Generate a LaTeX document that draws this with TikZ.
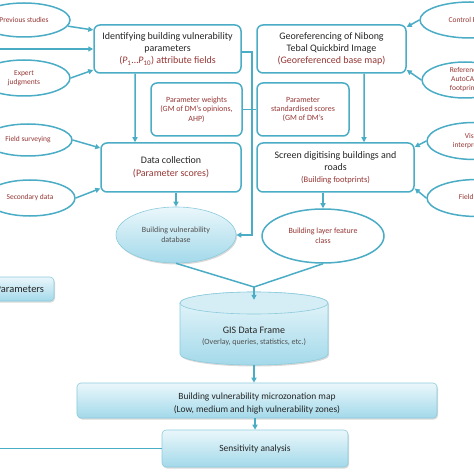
\documentclass[tikz,border=0pt]{standalone}
\usepackage{fontspec}
\setmainfont{Carlito}
\usetikzlibrary{shapes.geometric,arrows.meta,shadows,calc}
\definecolor{tl}{HTML}{4BACC6}
\definecolor{tlb}{HTML}{8CCBDC}
\definecolor{brn}{HTML}{953735}
\definecolor{ltop}{HTML}{EAF7FB}
\definecolor{lbot}{HTML}{A3D9EA}
\definecolor{txt}{HTML}{262626}
\definecolor{gry}{HTML}{505050}
\begin{document}
\begin{tikzpicture}[x=1bp,y=-1bp,
 wbox/.style={draw=tl, line width=1.5bp, rounded corners=6bp, fill=white, align=center, inner sep=1bp, text=txt, font=\fontsize{10}{12}\selectfont},
 sbox/.style={wbox, text=brn, font=\fontsize{8}{9.5}\selectfont},
 oval/.style={ellipse, draw=tl, line width=1.5bp, fill=white, align=center, inner sep=0pt, text=brn, font=\fontsize{7.5}{9}\selectfont},
 bluebox/.style={draw=tlb, line width=0.6bp, rounded corners=4bp, top color=ltop, bottom color=lbot, align=center, text=txt, font=\fontsize{9.5}{13.5}\selectfont, drop shadow={opacity=0.3, shadow xshift=1bp, shadow yshift=-1.5bp}},
 arr/.style={draw=tl, line width=1.5bp, -{Triangle[length=5bp,width=5bp]}},
 con/.style={draw=tl, line width=1.5bp}]
\useasboundingbox (0,0) rectangle (474,474);
\clip (0,0) rectangle (474,474);

% left inputs
\node[oval, minimum width=92bp, minimum height=34bp] (prev) at (24,20) {Previous studies};
\node[oval, minimum width=92bp, minimum height=36bp] (expert) at (24,78) {Expert\\judgments};
\node[oval, minimum width=88bp, minimum height=32bp] (field) at (28,140) {Field surveying};
\node[oval, minimum width=90bp, minimum height=36bp] (second) at (30,198) {Secondary data};

% right inputs
\node[oval, minimum width=100bp, minimum height=36bp] (ctrl) at (470,20) {Control Points};
\node[oval, minimum width=86bp, minimum height=36bp] (refac) at (465,80) {Reference\\AutoCAD\\footprints};
\node[oval, minimum width=94bp, minimum height=37bp] (visual) at (474,141) {Visual\\interpretation};
\node[oval, minimum width=100bp, minimum height=37bp] (fieldv) at (477,198) {Field survey};

% main boxes
\node[wbox, minimum width=147bp, minimum height=48bp] (ident) at (167.5,49)
  {Identifying building vulnerability\\parameters\\\textcolor{brn}{(\textit{P}\textsubscript{1}\ldots\textit{P}\textsubscript{10}) attribute fields}};
\node[wbox, minimum width=149bp, minimum height=48bp] (geo) at (331.5,49)
  {Georeferencing of Nibong\\Tebal Quickbird Image\\\textcolor{brn}{(Georeferenced base map)}};
\node[sbox, minimum width=91bp, minimum height=53bp] (pw) at (196.5,109.5)
  {Parameter weights\\(GM of DM's opinions,\\AHP)};
\node[sbox, minimum width=92bp, minimum height=53bp] (pstd) at (303,109.5)
  {Parameter\\standardised scores\\(GM of DM's};
\node[wbox, minimum width=140bp, minimum height=49bp, font=\fontsize{10}{13}\selectfont] (dc) at (171,167.5)
  {Data collection\\\textcolor{brn}{(Parameter scores)}};
\node[wbox, minimum width=157bp, minimum height=49bp] (sd) at (335.5,167.5)
  {Screen digitising buildings and\\roads\\{\fontsize{8.5}{11}\selectfont\textcolor{brn}{(Building footprints)}}};

\node[ellipse, draw=tlb, line width=0.6bp, top color=ltop, bottom color=lbot, minimum width=120bp, minimum height=56bp, align=center, inner sep=0pt, text=gry, font=\fontsize{8}{10}\selectfont, drop shadow={opacity=0.3, shadow xshift=1bp, shadow yshift=-1.5bp}] (db) at (176,235)
  {Building vulnerability\\database};
\node[oval, minimum width=122bp, minimum height=54bp, font=\fontsize{8}{10}\selectfont] (fc) at (323,236)
  {Building layer feature\\class};

% left parameters box
\node[bluebox, text width=90bp, inner xsep=10bp, align=right, minimum height=24bp, font=\fontsize{10.5}{12}\selectfont] (params) at (-1,289) {Parameters};

% GIS cylinder
\path[top color=ltop, bottom color=lbot, draw=tlb, line width=0.6bp, drop shadow={opacity=0.3, shadow xshift=1bp, shadow yshift=-1.5bp}]
  (180,303) -- (180,354) arc[start angle=180, end angle=360, x radius=74bp, y radius=11bp]
  -- (328,303) arc[start angle=0, end angle=180, x radius=74bp, y radius=11bp] -- cycle;
\path[fill=ltop!70!lbot, draw=tlb, line width=0.6bp] (254,303) ellipse[x radius=74bp, y radius=11bp];
\node[align=center, text=txt, font=\fontsize{10}{11.5}\selectfont, minimum width=148bp, minimum height=57bp, inner sep=0pt] (gis) at (254,336.5)
  {GIS Data Frame\\{\fontsize{8}{10}\selectfont\color{gry}(Overlay, queries, statistics, etc.)}};

\node[bluebox, minimum width=360bp, minimum height=35bp] (mm) at (257,400.5)
  {\rule{0pt}{13bp}Building vulnerability microzonation map\\(Low, medium and high vulnerability zones)};
\node[bluebox, minimum width=186bp, minimum height=37bp] (sa) at (255,448.5) {Sensitivity analysis};

% coordinates
\coordinate (inL) at (-5,49);
\coordinate (outL) at (-5,448.5);
\coordinate (join) at (254,287);

% connectors left
\draw[arr] (prev.-8) -- ([yshift=19bp]ident.west);
\draw[arr] (inL) -- (ident.west);
\draw[arr] (expert.east) -- ([yshift=-21bp]ident.west);
\draw[arr] (field.east) -- ([yshift=19.5bp]dc.west);
\draw[arr] (second.east) -- ([yshift=-21bp]dc.west);
% connectors right
\draw[arr] (ctrl.west) -- ([yshift=22bp]geo.east);
\draw[arr] (refac.west) -- ([yshift=-21bp]geo.east);
\draw[arr] (visual.west) -- ([yshift=20.5bp]sd.east);
\draw[arr] (fieldv.west) -- ([yshift=-21bp]sd.east);
% internal
\draw[arr] ([xshift=-32.5bp]ident.south) -- ([xshift=-36bp]dc.north);
\draw[arr] ([xshift=32.5bp]geo.south) -- ([xshift=28.5bp]sd.north);
\draw[arr] ([yshift=-3bp]ident.east) -- ++(10,0) |- (db.east);
\draw[con] (pw.east) -- (pstd.west);
\draw[arr] (dc.south -| db.north) -- (db.north);
\draw[arr] (sd.south -| fc.north) -- (fc.north);
\draw[con] (db.south) -- (join);
\draw[con] (fc.south) -- (join);
\draw[arr] (join) -- ([yshift=8bp]gis.north);
\draw[arr] (gis.south) -- (mm.north -| gis.south);
\draw[arr] (mm.south -| sa.north) -- (sa.north);
\draw[con] (sa.west) -- (outL);
\end{tikzpicture}
\end{document}
